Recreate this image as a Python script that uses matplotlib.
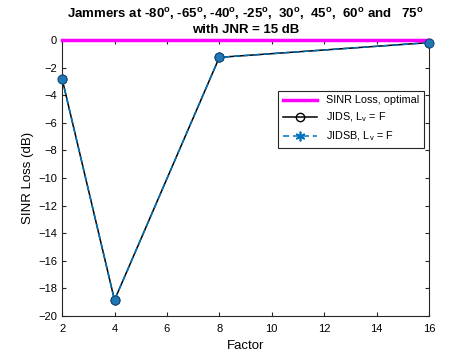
import matplotlib.pyplot as plt

plt.rcParams['font.family'] = ['Liberation Sans', 'DejaVu Sans']

factor = [2, 4, 8, 16]
loss_optimal = [0, 0, 0, 0]
loss_jids = [-2.8, -18.85, -1.25, -0.18]
loss_jidsb = [-2.8, -18.85, -1.25, -0.18]

fig = plt.figure(figsize=(4.74, 3.55), dpi=100)
ax = fig.add_axes([0.131, 0.110, 0.774, 0.777])

ax.plot(factor, loss_optimal, color='#ff00ff', lw=2.5, label='SINR Loss, optimal',
        clip_on=False, zorder=4)
ax.plot(factor, loss_jids, color='black', lw=1.1, marker='o', ms=6, mfc='none',
        mec='black', label='JIDS, L$_\\mathregular{v}$ = F')
ax.plot(factor, loss_jidsb, color='#0072bd', lw=1.1, ls=(0, (4, 2.5)), marker=(6, 2, 0), ms=7,
        mew=1.2, label='JIDSB, L$_\\mathregular{v}$ = F')
# filled circles seen on the plot
ax.plot(factor, loss_jidsb, ls='none', marker='o', ms=6.5, mfc='#1f77b4', mec='#154a7a',
        mew=0.8, clip_on=False, zorder=5)

ax.set_xlim(2, 16)
ax.set_ylim(-20, 0)
ax.set_xticks(range(2, 17, 2))
ax.set_yticks(range(-20, 1, 2))
ax.tick_params(direction='in', top=True, right=True, labelsize=8, length=3, color='#262626')
ax.tick_params(axis='x', pad=6)
for s in ax.spines.values():
    s.set_color('#262626')
    s.set_linewidth(0.8)

ax.set_xlabel('Factor', fontsize=9.5, labelpad=4)
ax.set_ylabel('SINR Loss (dB)', fontsize=9.5, labelpad=3)
ax.set_title('Jammers at -80$^\\mathregular{o}$, -65$^\\mathregular{o}$, -40$^\\mathregular{o}$, '
             '-25$^\\mathregular{o}$,  30$^\\mathregular{o}$,  45$^\\mathregular{o}$,  '
             '60$^\\mathregular{o}$ and   75$^\\mathregular{o}$\nwith JNR = 15 dB',
             fontsize=9.5, fontweight='bold', pad=5)

leg = ax.legend(loc='upper left', bbox_to_anchor=(0.575, 0.835), fontsize=7.8,
                fancybox=False, edgecolor='#262626', framealpha=1, handlelength=3.2,
                borderpad=0.4, labelspacing=0.5)
leg.get_frame().set_linewidth(0.8)

fig.savefig('out.png', dpi=100)
